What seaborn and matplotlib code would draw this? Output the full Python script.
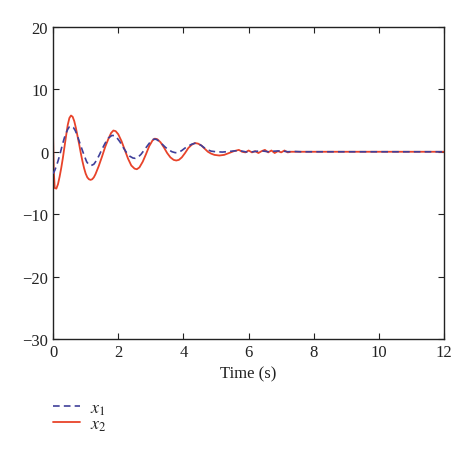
import matplotlib
matplotlib.use("Agg")
import matplotlib.pyplot as plt
import seaborn as sns
import pandas as pd

t2 = [0.00, 0.02, 0.05, 0.10, 0.15, 0.20, 0.25, 0.30, 0.35, 0.40, 0.45, 0.50, 0.55, 0.60, 0.65, 0.70,
      0.75, 0.80, 0.85, 0.90, 0.95, 1.00, 1.05, 1.10, 1.15, 1.20, 1.25, 1.30, 1.40, 1.50, 1.60, 1.70,
      1.78, 1.85, 1.92, 2.00, 2.10, 2.20, 2.30, 2.40, 2.50, 2.57, 2.65, 2.75, 2.85, 2.95, 3.05, 3.12,
      3.20, 3.30, 3.40, 3.50, 3.60, 3.70, 3.78, 3.86, 3.95, 4.05, 4.15, 4.25, 4.35, 4.45, 4.55, 4.65,
      4.75, 4.85, 4.95, 5.10, 5.25, 5.40, 5.55, 5.70, 5.80, 5.90, 6.00, 6.10, 6.20, 6.30, 6.40, 6.50,
      6.60, 6.70, 6.80, 6.90, 7.00, 7.10, 7.20, 7.30, 7.50, 12.0]
x2 = [2.5, -3.0, -5.8, -5.9, -5.2, -4.0, -2.6, -1.0, 0.8, 2.6, 4.3, 5.4, 5.8, 5.6, 4.9, 3.8,
      2.5, 1.2, -0.2, -1.5, -2.6, -3.5, -4.1, -4.4, -4.5, -4.4, -4.1, -3.6, -2.3, -0.8, 0.8, 2.1,
      3.0, 3.4, 3.3, 2.8, 1.7, 0.3, -1.1, -2.2, -2.7, -2.8, -2.5, -1.6, -0.4, 0.9, 1.8, 2.1,
      2.0, 1.5, 0.7, -0.2, -0.9, -1.3, -1.4, -1.3, -0.9, -0.2, 0.6, 1.1, 1.4, 1.3, 1.0, 0.5,
      0.0, -0.3, -0.5, -0.6, -0.5, -0.2, 0.1, 0.3, 0.0, -0.1, 0.2, -0.1, 0.1, -0.2, 0.1, 0.3,
      -0.1, 0.2, -0.2, 0.1, -0.1, 0.2, -0.1, 0.0, 0.0, 0.0]

t1 = [0.00, 0.05, 0.10, 0.15, 0.20, 0.25, 0.30, 0.35, 0.40, 0.45, 0.50, 0.56, 0.62, 0.68, 0.75, 0.82,
      0.90, 0.97, 1.03, 1.10, 1.17, 1.25, 1.33, 1.42, 1.50, 1.60, 1.70, 1.80, 1.88, 1.95, 2.05, 2.15,
      2.25, 2.35, 2.45, 2.52, 2.60, 2.70, 2.80, 2.90, 3.00, 3.08, 3.16, 3.25, 3.35, 3.45, 3.55, 3.65,
      3.75, 3.85, 3.95, 4.05, 4.15, 4.25, 4.35, 4.45, 4.55, 4.65, 4.75, 4.85, 5.00, 5.20, 5.40, 5.60,
      5.80, 6.00, 6.20, 6.40, 6.60, 6.80, 7.00, 7.20, 7.40, 7.60, 12.0]
x1 = [-3.5, -3.0, -2.3, -1.5, -0.6, 0.4, 1.4, 2.3, 3.0, 3.6, 4.0, 4.1, 3.9, 3.4, 2.5, 1.4,
      0.2, -0.8, -1.6, -2.1, -2.2, -2.0, -1.4, -0.5, 0.4, 1.4, 2.2, 2.6, 2.6, 2.3, 1.6, 0.7,
      -0.1, -0.7, -1.0, -1.05, -0.9, -0.4, 0.3, 1.0, 1.7, 2.0, 2.0, 1.7, 1.2, 0.7, 0.3, 0.0,
      -0.15, -0.1, 0.2, 0.6, 0.9, 1.2, 1.35, 1.3, 1.0, 0.6, 0.3, 0.1, 0.0, -0.05, 0.05, 0.15,
      0.1, -0.1, 0.05, 0.15, 0.0, 0.1, 0.15, 0.0, 0.05, 0.0, 0.0]

xticks = [0, 2, 4, 6, 8, 10, 12]
yticks = [-30, -20, -10, 0, 10, 20]

sns.set_theme(style="ticks", rc={"xtick.direction": "in", "ytick.direction": "in",
                                 "xtick.top": True, "ytick.right": True})
plt.rcParams['font.family'] = ['Liberation Serif', 'DejaVu Serif']
plt.rcParams['mathtext.fontset'] = 'stix'

fig = plt.figure(figsize=(4.74, 4.56), dpi=100)
ax = fig.add_axes([0.112, 0.254, 0.825, 0.685])

df1 = pd.DataFrame({"t": t1, "v": x1})
df2 = pd.DataFrame({"t": t2, "v": x2})
sns.lineplot(data=df1, x="t", y="v", ax=ax, color="#3f3f9a", lw=1.2, label="$x_1$", sort=False)
sns.lineplot(data=df2, x="t", y="v", ax=ax, color="#e8432a", lw=1.3, label="$x_2$", sort=False)
ax.lines[0].set_linestyle((0, (4, 2.5)))
ax.lines[0].set_zorder(3)

ax.set_xlim(0, 12)
ax.set_ylim(-30, 20)
ax.set_xticks(xticks)
ax.set_yticks(yticks)
ax.set_yticklabels([str(v).replace('-', '\u2212') for v in yticks])
ax.set_xlabel("Time (s)", fontsize=12, color="#222222")
ax.set_ylabel("")
ax.tick_params(which="both", direction="in", top=True, right=True, length=4, width=0.8,
               labelsize=12, colors="#222222")
for s in ax.spines.values():
    s.set_linewidth(1.0)
    s.set_color("#222222")

ax.legend(loc="upper left", bbox_to_anchor=(-0.043, -0.14), frameon=False, fontsize=13,
          handlelength=1.5, handletextpad=0.55, labelspacing=-0.05)

fig.savefig("out.png", dpi=100)
